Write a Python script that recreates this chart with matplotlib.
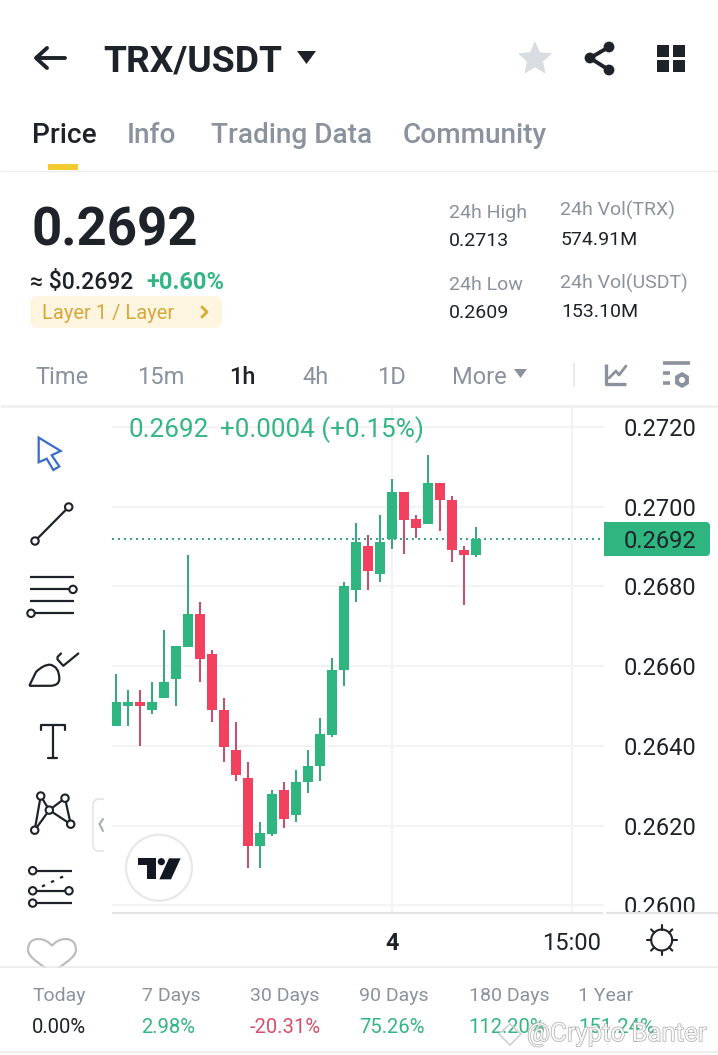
import numpy as np
import matplotlib
matplotlib.use("Agg")
import matplotlib.pyplot as plt
from matplotlib.patches import Circle, Polygon, Rectangle, FancyBboxPatch, PathPatch
from matplotlib.path import Path
from matplotlib.transforms import Bbox
import matplotlib.patheffects as pe

plt.rcParams['font.family'] = ['Roboto', 'DejaVu Sans']

# ---------- data ----------
opens  = [0.26449,0.26499,0.26510,0.26489,0.26519,0.26569,0.26649,0.26730,0.26630,0.26489,0.26389,
          0.26319,0.26150,0.26180,0.26289,0.26228,0.26309,0.26350,0.26428,0.26590,0.26790,0.26901,
          0.26830,0.26918,0.27038,0.26969,0.26957,0.27059,0.27018,0.26891,0.26880]
highs  = [0.26580,0.26540,0.26540,0.26560,0.26690,0.26650,0.26880,0.26760,0.26640,0.26520,0.26459,
          0.26359,0.26209,0.26289,0.26309,0.26339,0.26390,0.26469,0.26620,0.26810,0.26959,0.26929,
          0.26979,0.27069,0.27038,0.26979,0.27130,0.27059,0.27028,0.26901,0.26948]
lows   = [0.26449,0.26451,0.26401,0.26481,0.26519,0.26501,0.26649,0.26561,0.26461,0.26361,0.26311,
          0.26093,0.26093,0.26173,0.26193,0.26210,0.26281,0.26311,0.26422,0.26551,0.26762,0.26792,
          0.26812,0.26893,0.26882,0.26921,0.26957,0.26940,0.26862,0.26753,0.26873]
closes = [0.26510,0.26510,0.26499,0.26510,0.26560,0.26650,0.26730,0.26619,0.26489,0.26398,0.26328,
          0.26150,0.26181,0.26279,0.26218,0.26309,0.26350,0.26429,0.26590,0.26800,0.26911,0.26840,
          0.26911,0.27038,0.26967,0.26947,0.27059,0.27018,0.26891,0.26880,0.26918]
last_price = 0.2692
price_ticks = [0.2720,0.2700,0.2680,0.2660,0.2640,0.2620,0.2600]
time_ticks = [23, 38]
time_labels = ['4', '15:00']
tabs = ['Price','Info','Trading Data','Community']
intervals = ['Time','15m','1h','4h','1D','More']
period_names = ['Today','7 Days','30 Days','90 Days','180 Days','1 Year']
period_values = ['0.00%','2.98%','-20.31%','75.26%','112.20%','151.24%']

# ---------- colours ----------
GREEN='#2fb57f'; RED='#f2415e'; GW='#3ea583'; RW='#bd5470'
DARK='#1e2329'; GREY='#8a929e'; GRID='#f3f3f4'; TXTG='#35b585'; TXTR='#d6506e'

W,H=718,1055
fig=plt.figure(figsize=(W/100,H/100),dpi=100,facecolor='white')

# ---------- chart ----------
L,R,T,B=112,604,406,912
ax=fig.add_axes([L/W,1-B/H,(R-L)/W,(B-T)/H],zorder=1)
y_per_px=0.002/79.75
ax.set_ylim(0.27-(B-506.7)*y_per_px,0.27+(506.7-T)*y_per_px)
ax.set_xlim(-4/12,(R-116)/12)
for s in ax.spines.values(): s.set_visible(False)
ax.set_axisbelow(True)
ax.grid(True,color=GRID,lw=1.5)
ax.yaxis.tick_right()
ax.set_yticks(price_ticks)
ax.set_yticklabels([f'{p:.4f}' for p in price_ticks],fontsize=17,color=DARK)
ax.set_xticks(time_ticks)
ax.set_xticklabels(time_labels,fontsize=17,color=DARK)
ax.get_xticklabels()[0].set_fontweight('bold')
ax.tick_params(axis='both',length=0)
ax.tick_params(axis='y',pad=14.4)
ax.tick_params(axis='x',pad=14.5)
clip=Bbox.from_extents(600,H-912,W,H-406)
for lab in ax.get_yticklabels():
    lab.set_clip_on(True); lab.set_clip_box(clip)
x=np.arange(len(opens))
o,h,l,c=map(np.array,(opens,highs,lows,closes))
up=c>=o
ax.vlines(x,l,h,colors=[GW if u else RW for u in up],lw=1.5,zorder=3)
ax.bar(x,np.abs(c-o),bottom=np.minimum(o,c),width=10/12,color=[GREEN if u else RED for u in up],zorder=4)
ax.axhline(last_price,color=GW,lw=1.44,linestyle=(0,(1,2)),zorder=2)

# ---------- UI overlay ----------
ui=fig.add_axes([0,0,1,1],zorder=5)
ui.set_xlim(0,W); ui.set_ylim(H,0); ui.axis('off'); ui.patch.set_alpha(0)

def tx(x,y,s,size,color=DARK,weight='normal',ha='left',**k):
    return ui.text(x,y,s,fontsize=size,color=color,fontweight=weight,ha=ha,va='baseline',**k)
def line(xs,ys,color=DARK,lw=1.6,**k):
    ui.plot(xs,ys,color=color,lw=lw,solid_capstyle=k.pop('cap','round'),**k)
def ring(x,y,r=3.7,color=DARK,lw=1.5,fc='white'):
    ui.add_patch(Circle((x,y),r,fc=fc,ec=color,lw=lw,zorder=6))

# header
line([37,65],[58,58],lw=2.8)
line([47,36,47],[48,58,68],lw=2.8)
tx(103,72,'TRX/USDT',26.8,weight='bold')
ui.add_patch(Polygon([(297,51),(316,51),(306.5,64)],fc=DARK,ec='none'))
a=np.linspace(-np.pi/2,1.5*np.pi,11)[:-1]; rr=np.tile([16.5,7.5],5)
ui.add_patch(Polygon(np.c_[535+rr*np.cos(a),59+rr*np.sin(a)],fc='#d9dce1',ec='#d9dce1',lw=1,joinstyle='round'))
line([590,609],[58,47],lw=2.8); line([590,609],[58,70],lw=2.8)
for p in [(590,58),(609,47),(609,70)]:
    ui.add_patch(Circle(p,5.4,fc=DARK,ec='none'))
for xx,yy in [(657,45),(673,45),(657,60),(673,60)]:
    ui.add_patch(Rectangle((xx,yy),12,11.5,fc=DARK,ec='none'))

# tabs
for s,xx,col in zip(tabs,[32,127,211,403],[DARK,GREY,GREY,GREY]):
    tx(xx,143,s,20.2,color=col,weight='medium')
ui.add_patch(Rectangle((48,164),30,6,fc='#f3ca30',ec='none'))
line([0,W],[171,171],color='#eeeeee',lw=1,cap='butt')

# price block
tx(31,246,'0.2692',38,weight='bold')
tx(30,289,'≈ $0.2692',16.5,weight='medium')
tx(146,289,'+0.60%',17,color=TXTG,weight='bold')
ui.add_patch(FancyBboxPatch((30,296),192,32,boxstyle='round,pad=0,rounding_size=8',fc='#fdf5df',ec='none'))
tx(42,319,'Layer 1 / Layer',14.5,color='#d4a83c')
line([202,207,202],[307,312,317],color='#d9ab35',lw=2)

# stats
for xx,yy,s in [(449,218,'24h High'),(449,290,'24h Low'),(560,216,'24h Vol(TRX)'),(560,289,'24h Vol(USDT)')]:
    tx(xx,yy,s,14,color=GREY)
for xx,yy,s in [(449,246,'0.2713'),(449,318,'0.2609'),(561,245,'574.91M'),(561,317,'153.10M')]:
    tx(xx,yy,s,14,color=DARK)

# intervals
for s,xx,col,we in zip(intervals,[35,137,229,302,377,452],[GREY,GREY,DARK,GREY,GREY,GREY],['normal','normal','medium','normal','normal','normal']):
    tx(xx,384,s,17,color=col,weight=we)
ui.add_patch(Polygon([(514,369),(527,369),(520.5,378)],fc=GREY,ec='none'))
line([574,574],[363,386],color='#e6e6e6',lw=1.2)
line([606,606,626],[364,384,384],color=GREY,lw=2.4,cap='butt')
line([609,616,619,626],[378,371,375,366],color=GREY,lw=2)
line([663,690],[363,363],color=GREY,lw=2.6,cap='butt')
line([663,670],[373,373],color=GREY,lw=2.6,cap='butt')
line([663,670],[383,383],color=GREY,lw=2.6,cap='butt')
a=np.linspace(0,2*np.pi,7)[:-1]+np.pi/6
ui.add_patch(Polygon(np.c_[682+8*np.cos(a),380+8*np.sin(a)],fc=GREY,ec='none'))
ui.add_patch(Circle((682,380),3,fc='white',ec='none'))
line([0,W],[405.5,405.5],color='#f0f0f0',lw=2,cap='butt')

# chart header and price tag
tx(128,437,'0.2692',18.7,color=TXTG)
tx(220,437,'+0.0004 (+0.15%)',18.7,color=TXTG)
ui.add_patch(FancyBboxPatch((604,522),106,34,boxstyle='round,pad=0,rounding_size=4',fc=GREEN,ec='none'))
ui.add_patch(Rectangle((604,522),8,34,fc=GREEN,ec='none'))
tx(624,548,f'{last_price:.4f}',17,color=DARK)

# axis line and sun
line([112,603],[912.5,912.5],color='#e3e3e8',lw=1.5,cap='butt')
line([606,W],[912.5,912.5],color='#e3e3e8',lw=1.5,cap='butt')
ui.add_patch(Circle((661.7,940),10.5,fc='none',ec=DARK,lw=1.5))
for t in np.arange(8)*np.pi/4:
    line([661.7+10.5*np.cos(t),661.7+15*np.cos(t)],[940+10.5*np.sin(t),940+15*np.sin(t)],lw=1.5)

# side toolbar
ui.add_patch(Polygon([(38.7,437.6),(60.7,451),(51.7,455.2),(59.3,466.5),(53.3,470),(46.7,458.7),(38.7,462.3)],fc='none',ec='#3a6cc8',lw=1.6))
line([35,68.7],[541,507]); ring(35,541); ring(68.7,507)
for yy,x0 in [(577.4,30),(589.4,30),(601.3,30),(613.3,31)]:
    line([x0,74],[yy,yy],cap='butt')
ring(73,589.4); ring(31,613.3)
ui.add_patch(PathPatch(Path([(29.3,685.8),(50,685.8),(59.3,685.8),(59.3,678.8),(59.3,666.5),(50,664.7),(43.3,664.7),(36,672),(29.3,685.8)],
    [Path.MOVETO,Path.LINETO,Path.CURVE3,Path.CURVE3,Path.CURVE3,Path.CURVE3,Path.CURVE3,Path.CURVE3,Path.LINETO]),fc='none',ec=DARK,lw=1.6))
line([61,57.5,57.5,63.3,78.3],[653.5,657,659.4,665.8,653.5])
line([41,41,65.3,65.3],[730,725,725,730]); line([52.7,52.7],[725,758]); line([48.3,57.3],[758,758])
nodes=[(40.7,796),(65,798.2),(49.3,810.1),(34.7,830.2),(70.7,824.2)]
for i,j in [(0,3),(0,2),(1,2),(1,4),(2,4),(2,3)]:
    line([nodes[i][0],nodes[j][0]],[nodes[i][1],nodes[j][1]])
for n in nodes: ring(n[0],n[1])
for yy in [870.7,890.8,903.1]:
    line([33,72],[yy,yy],cap='butt')
line([42,68],[886.5,874.2],linestyle=(0,(1.5,3)))
for p in [(32.7,870.7),(32.7,890.8),(69,890.8),(32.7,903.1)]: ring(*p)
heart=Path([(52,946),(46,937),(28,935),(28,950),(28,958),(44,966),(52,973),(60,966),(76,958),(76,950),(76,935),(58,937),(52,946)],
           [Path.MOVETO]+[Path.CURVE4]*12)
ui.add_patch(PathPatch(heart,fc='none',ec='#bdbdbd',lw=1.6))
tab=FancyBboxPatch((93,799),25,52,boxstyle='round,pad=0,rounding_size=6',fc='white',ec='#e6e6e6',lw=1.3)
ui.add_patch(tab)
tab.set_clip_path(Rectangle((90,795),14,60,transform=ui.transData))
line([103,99.5,103],[819,824,831],color='#a5adb5',lw=1.5)

# tradingview badge
ui.add_patch(Circle((159,867.7),33,fc='white',ec='#e8e8e8',lw=1.6))
def zp(pts): return [(90+a/3,790+b/3) for a,b in pts]
ui.add_patch(Polygon(zp([(145,205),(198,205),(198,268),(170,268),(170,226),(145,226)]),fc='#131722',ec='none'))
ui.add_patch(Polygon(zp([(237,205),(272,205),(243,268),(208,268)]),fc='#131722',ec='none'))
ui.add_patch(Circle((90+214/3,790+215/3),3.6,fc='#131722',ec='none'))

# bottom period row
line([0,W],[967,967],color='#e9e9e9',lw=1.1,cap='butt')
line([0,W],[1052,1052],color='#e9e9e9',lw=1.1,cap='butt')
ui.add_patch(Rectangle((0,968),W,83,fc='white',ec='none',zorder=1.5))
for s,xx in zip(period_names,[33,142,250,359,469,578]):
    tx(xx,1001,s,14,color=GREY)
for v,xx,col in zip(period_values,[32,141,250,359,468,578],[DARK,TXTG,TXTR,TXTG,TXTG,TXTG]):
    tx(xx,1033,v,14.6,color=col)
tx(527,1041,'@Crypto Banter',18.5,color='#ffffff',alpha=.85,
   path_effects=[pe.withStroke(linewidth=1.0,foreground='#a0a0a0')],zorder=8)
ui.add_patch(Polygon([(499,1034),(510,1024),(521,1034),(510,1045)],fc='none',ec='#cfcfcf',lw=1.2,zorder=8))

fig.savefig('out.png',dpi=100,facecolor='white')
